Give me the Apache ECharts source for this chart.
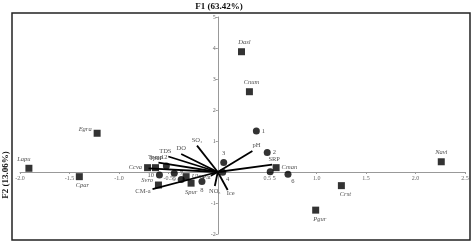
<!DOCTYPE html>
<html><head><meta charset="utf-8">
<script src="https://cdn.jsdelivr.net/npm/echarts@6/dist/echarts.min.js"></script>
<style>html,body{margin:0;padding:0;background:#fff}#c{width:474px;height:243px}</style>
</head><body><div id="c"></div>
<script>
// Species (squares)
const speciesNames = ["Dasl","Cnum","Egra","Lapu","Cpar","Ccva","Tpal","Svro","Ulna","Spur","Cman","Navi","Crst","Pgur"];
const speciesX = [0.24, 0.32, -1.22, -1.91, -1.40, -0.71, -0.63, -0.60, -0.32, -0.27, 0.59, 2.26, 1.25, 0.99];
const speciesY = [3.88, 2.59, 1.25, 0.12, -0.15, 0.14, 0.14, -0.42, -0.15, -0.36, 0.14, 0.33, -0.44, -1.23];
const speciesLabelPos = ["top","top","left","top","bottom","left","top","left","right","bottom","right","top","bottom","bottom"];
// Samples (circles)
const sampleNames = ["1","2","3","4","5","6","7","8","9","10","12"];
const sampleX = [0.39, 0.50, 0.06, 0.05, 0.53, 0.71, -0.44, -0.16, -0.37, -0.59, -0.52];
const sampleY = [1.32, 0.63, 0.31, -0.01, 0.01, -0.07, -0.04, -0.31, -0.24, -0.10, 0.19];
const sampleLabelPos = ["right","right","top","bottom","bottom","bottom","right","bottom","left","left","top"];
// Environmental vectors
const vectorNames = ["SO₄","DO","TDS","Temp","","pH","SRP","NO₃","Ice","Par","CM-a"];
const vectorX = [-0.21, -0.37, -0.50, -0.60, -0.70, 0.35, 0.55, -0.03, 0.10, -0.07, -0.66];
const vectorY = [0.85, 0.58, 0.50, 0.30, 0.12, 0.68, 0.24, -0.45, -0.58, -0.12, -0.55];
const vectorLabelPos = ["top","top","top","top","top","top","top","bottom","bottom","bottom","left"];
// Axis ticks
const xTicks = {min: -2, max: 2.5, interval: 0.5};
const yTicks = {min: -2, max: 5, interval: 1};

const serif = "Liberation Serif";
const chart = echarts.init(document.getElementById('c'), null, {renderer: 'canvas'});

const labelOffsets = {
  "Egra": [0,-4], "Lapu": [-5,0], "Cpar": [3,0], "Svro": [0,-5], "Crst": [4,0], "Pgur": [4,0],
  "Dasl": [3,0], "Cnum": [2,0]
};
const sampleOffsets = {"4":[5,-2], "5":[4,-2], "6":[5,-2], "12":[-2,0]};
const vecOffsets = {"TDS":[-3,0], "Temp":[-3,0], "pH":[4,0], "SRP":[2,0], "Ice":[3,-2], "Par":[-4,-4], "CM-a":[0,2]};

const speciesData = speciesNames.map((n,i)=>({
  value:[speciesX[i], speciesY[i]], name:n,
  label:{position:speciesLabelPos[i], offset:labelOffsets[n]||[0,0]}
}));
const sampleData = sampleNames.map((n,i)=>({
  value:[sampleX[i], sampleY[i]], name:n,
  label:{position:sampleLabelPos[i], offset:sampleOffsets[n]||[0,0]}
}));
const vecLines = vectorNames.map((n,i)=>({coords:[[0,0],[vectorX[i], vectorY[i]]]}));
const vecLabels = vectorNames.map((n,i)=>({
  value:[vectorX[i], vectorY[i]], name:n,
  label:{position:vectorLabelPos[i], offset:vecOffsets[n]||[0,0]}
}));

const gridCfg = {left:20, right:9, top:17, bottom:9, containLabel:false};
chart.setOption({
  animation:false,
  backgroundColor:'#fff',
  grid:gridCfg,
  graphic:[
    {type:'rect', shape:{x:12, y:13, width:458, height:227}, style:{fill:'none', stroke:'#222', lineWidth:1.5}, z:-1},
    {type:'text', x:219, y:2, style:{text:'F1 (63.42%)', font:'bold 9px "Liberation Serif"', fill:'#111', textAlign:'center', textVerticalAlign:'top'}},
    {type:'text', x:6, y:175, rotation:Math.PI/2, style:{text:'F2 (13.06%)', font:'bold 9px "Liberation Serif"', fill:'#111', textAlign:'center', textVerticalAlign:'middle'}}
  ],
  xAxis:{
    type:'value', min:xTicks.min, max:xTicks.max, interval:xTicks.interval,
    axisLine:{onZero:false, lineStyle:{color:'#999', width:1}},
    axisTick:{show:true, length:2, lineStyle:{color:'#999'}},
    splitLine:{show:false},
    axisLabel:{fontFamily:serif, fontSize:6, color:'#666', margin:3,
      formatter:v=> Math.abs(v)<1e-9 ? '' : v.toFixed(1)}
  },
  yAxis:{
    type:'value', min:yTicks.min, max:yTicks.max, interval:yTicks.interval,
    axisLine:{onZero:false, lineStyle:{color:'#999', width:1}},
    axisTick:{show:true, length:2, lineStyle:{color:'#999'}},
    splitLine:{show:false},
    axisLabel:{fontFamily:serif, fontSize:6, color:'#666', margin:2,
      formatter:v=> Math.abs(v)<1e-9 ? '' : String(v)}
  },
  series:[
    {type:'lines', coordinateSystem:'cartesian2d', data:vecLines, symbol:'none',
     lineStyle:{color:'#000', width:1.8, opacity:1}, z:3, silent:true},
    {type:'scatter', data:vecLabels, symbolSize:0, z:4,
     label:{show:true, formatter:'{b}', fontFamily:serif, fontSize:6.5, color:'#222', distance:2}},
    {type:'scatter', data:speciesData, symbol:'rect', symbolSize:7, itemStyle:{color:'#000'}, z:5,
     label:{show:true, formatter:'{b}', fontFamily:serif, fontStyle:'italic', fontSize:6.5, color:'#222', distance:2}},
    {type:'scatter', data:sampleData, symbol:'circle', symbolSize:7, itemStyle:{color:'#000'}, z:5,
     label:{show:true, formatter:'{b}', fontFamily:serif, fontSize:6.5, color:'#222', distance:2}}
  ]
});
// Move axes so that they cross at the origin (axes through 0,0)
const origin = chart.convertToPixel({gridIndex:0}, [0,0]);
const corner = chart.convertToPixel({gridIndex:0}, [xTicks.min, yTicks.min]);
chart.setOption({
  xAxis:{offset: -(corner[1]-origin[1])},
  yAxis:{offset: -(origin[0]-corner[0])}
});
</script></body></html>
